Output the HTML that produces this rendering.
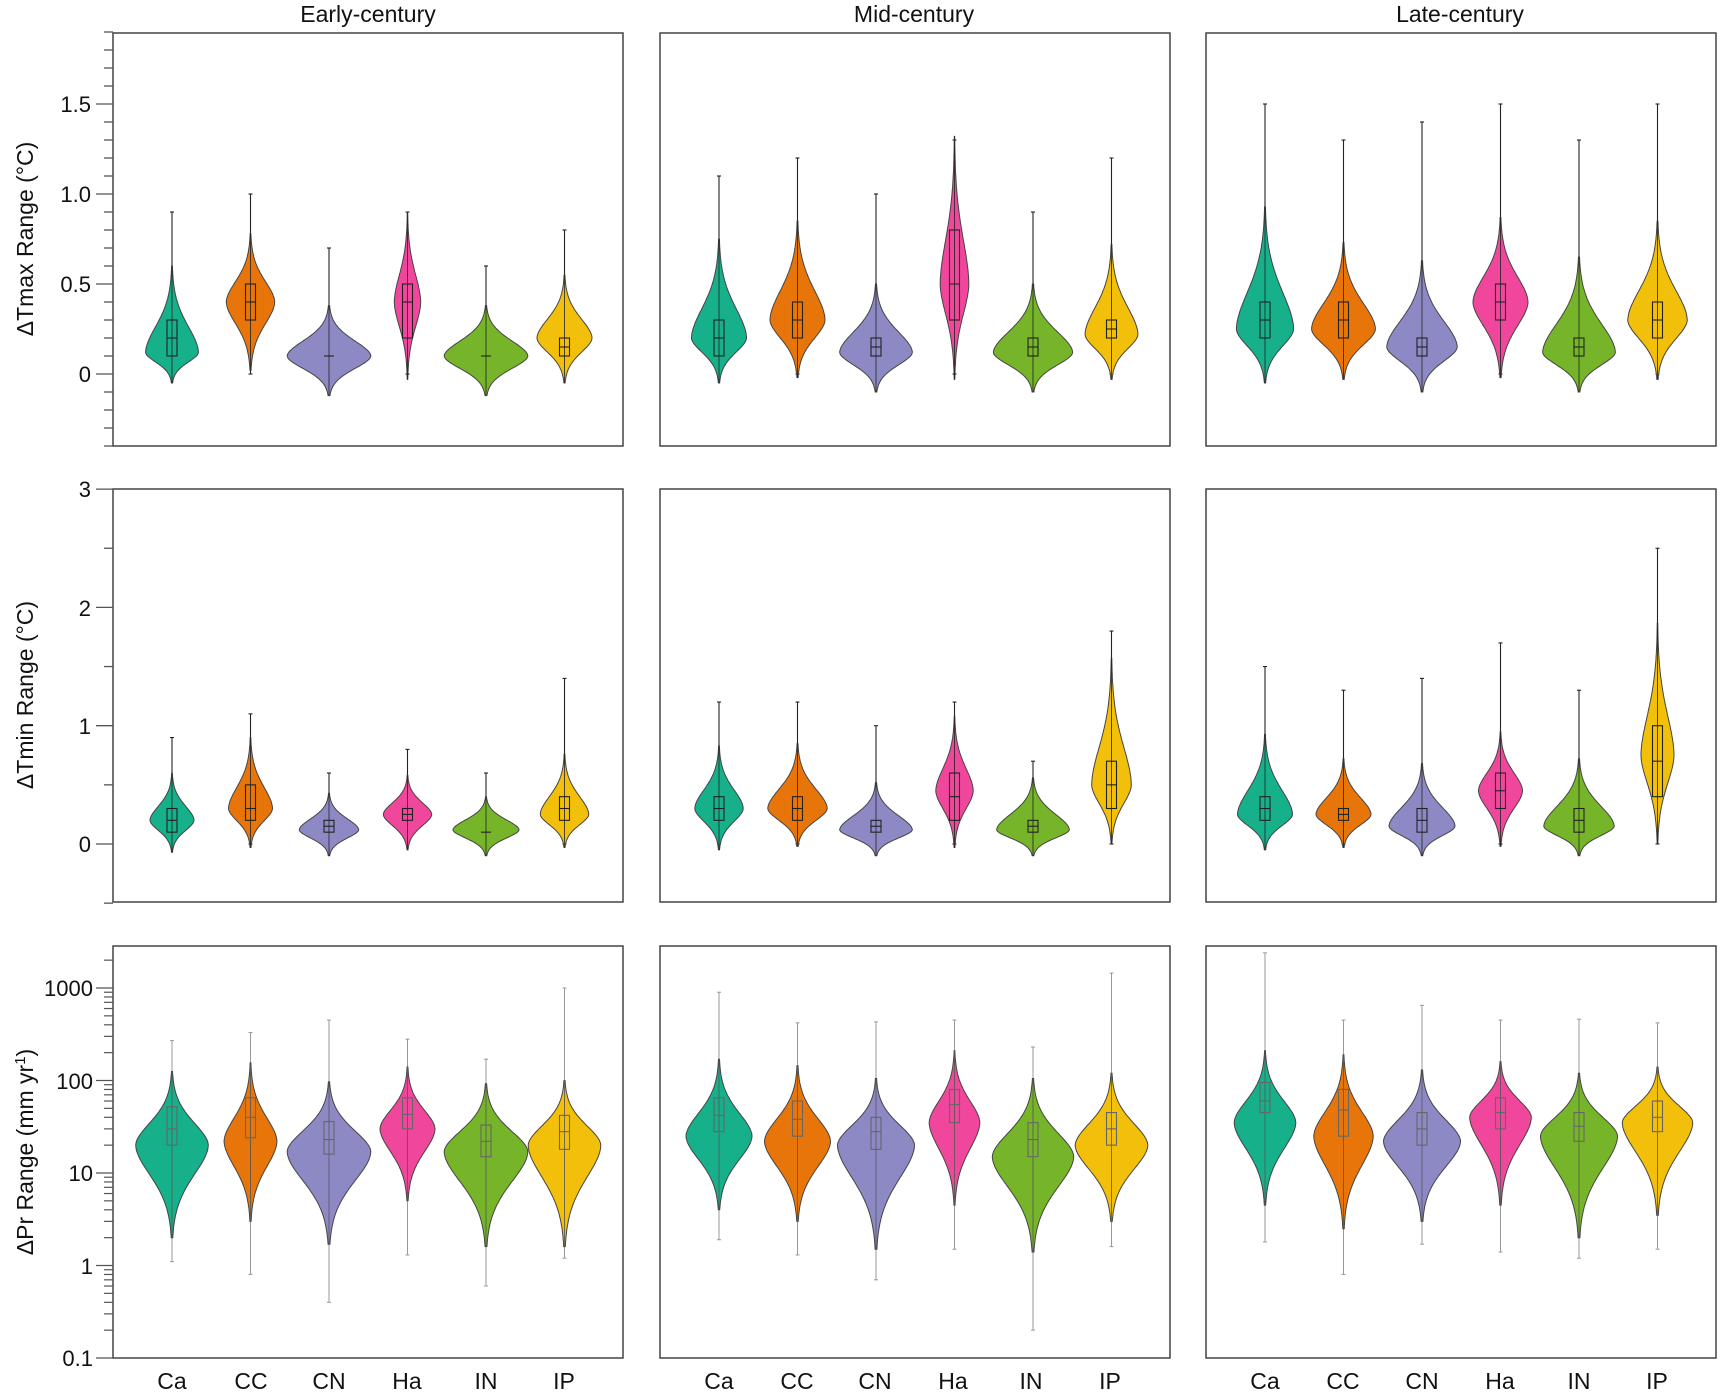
<!DOCTYPE html>
<html><head><meta charset="utf-8"><style>
html,body{margin:0;padding:0;background:#fff}
svg{display:block}
text{font-family:"Liberation Sans",sans-serif;fill:#111}
</style></head><body>
<svg id="s" width="1720" height="1395" viewBox="0 0 1720 1395" xmlns="http://www.w3.org/2000/svg">
<g id="shapes"></g>
<g font-size="23" text-anchor="middle">
<text x="368" y="22">Early-century</text>
<text x="914" y="22">Mid-century</text>
<text x="1460" y="22">Late-century</text>
</g>
<g font-size="22" text-anchor="end">
<text x="91" y="382">0</text><text x="91" y="292">0.5</text><text x="91" y="202">1.0</text><text x="91" y="112">1.5</text>
<text x="91" y="852">0</text><text x="91" y="734">1</text><text x="91" y="616">2</text><text x="91" y="497">3</text>
<text x="93" y="996">1000</text><text x="93" y="1089">100</text><text x="93" y="1181">10</text><text x="93" y="1274">1</text><text x="93" y="1366">0.1</text>
</g>
<g font-size="23" text-anchor="middle">
<text transform="translate(33,239) rotate(-90)">ΔTmax Range (°C)</text>
<text transform="translate(33,695) rotate(-90)">ΔTmin Range (°C)</text>
<text transform="translate(33,1152) rotate(-90)">ΔPr Range (mm yr<tspan dy="-8" font-size="15">1</tspan><tspan dy="8">)</tspan></text>
</g>
<g font-size="23" text-anchor="middle">
<text x="172" y="1389">Ca</text><text x="251" y="1389">CC</text><text x="329" y="1389">CN</text><text x="407" y="1389">Ha</text><text x="486" y="1389">IN</text><text x="564" y="1389">IP</text>
<text x="719" y="1389">Ca</text><text x="797" y="1389">CC</text><text x="875" y="1389">CN</text><text x="953" y="1389">Ha</text><text x="1031" y="1389">IN</text><text x="1110" y="1389">IP</text>
<text x="1265" y="1389">Ca</text><text x="1343" y="1389">CC</text><text x="1422" y="1389">CN</text><text x="1500" y="1389">Ha</text><text x="1579" y="1389">IN</text><text x="1657" y="1389">IP</text>
</g>
</svg>
<script>
var NS="http://www.w3.org/2000/svg",G=document.getElementById("shapes");
function el(t,a){var e=document.createElementNS(NS,t);for(var k in a)e.setAttribute(k,a[k]);G.appendChild(e);return e;}
var cols=[113,660,1206],W=510;
var rows=[{t:33,b:446,f:function(v){return 374-v*180}},
{t:489,b:902,f:function(v){return 844-v*118.3}},
{t:946,b:1358,f:function(v){return 988+(3-Math.log10(v))*92.5}}];
var colors=["#16b08b","#e8750a","#8c89c4","#f0479c","#76b52a","#f2bf0a"];
rows.forEach(function(r){cols.forEach(function(c){el("rect",{x:c,y:r.t,width:W,height:r.b-r.t,fill:"none",stroke:"#444","stroke-width":1.5});});});
for(var i=-4;i<=19;i++){var y=rows[0].f(i/10),mj=(i%5==0);el("line",{x1:mj?96:104,x2:113,y1:y,y2:y,stroke:"#555","stroke-width":1.3});}
for(var i=-1;i<=6;i++){var y=rows[1].f(i/2),mj=(i%2==0);el("line",{x1:mj?96:104,x2:113,y1:y,y2:y,stroke:"#555","stroke-width":1.3});}
for(var d=-1;d<=3;d++){for(var m=1;m<=9;m++){var v=m*Math.pow(10,d);if(v>2900)break;var y=rows[2].f(v);el("line",{x1:m==1?96:104,x2:113,y1:y,y2:y,stroke:"#555","stroke-width":1.2});}}
var D=[
[[[0,.9,-.05,.6,.12,24,.1,.3,.2],[0,1,.02,.78,.4,22,.3,.5,.4],[0,.7,-.12,.38,.1,38,.1,.1,.1],[0,.9,-.03,.9,.4,12,.2,.5,.4],[0,.6,-.12,.38,.1,38,.1,.1,.1],[0,.8,-.05,.55,.2,25,.1,.2,.15]],
 [[0,1.1,-.05,.75,.2,25,.1,.3,.2],[0,1.2,-.02,.85,.3,25,.2,.4,.3],[0,1,-.1,.5,.12,33,.1,.2,.15],[0,1.3,-.03,1.32,.5,13,.3,.8,.5],[0,.9,-.1,.5,.12,36,.1,.2,.15],[0,1.2,-.03,.72,.22,24,.2,.3,.25]],
 [[0,1.5,-.05,.93,.25,26,.2,.4,.3],[0,1.3,-.03,.73,.25,29,.2,.4,.3],[0,1.4,-.1,.63,.15,32,.1,.2,.15],[0,1.5,-.02,.87,.4,25,.3,.5,.4],[0,1.3,-.1,.65,.12,33,.1,.2,.15],[0,1.5,-.03,.85,.3,27,.2,.4,.3]]],
[[[0,.9,-.07,.6,.2,20,.1,.3,.2],[0,1.1,-.03,.9,.3,20,.2,.5,.3],[0,.6,-.1,.43,.12,27,.1,.2,.15],[0,.8,-.05,.58,.25,22,.2,.3,.25],[0,.6,-.1,.4,.12,30,.1,.1,.1],[0,1.4,-.03,.76,.25,22,.2,.4,.3]],
 [[0,1.2,-.05,.83,.3,22,.2,.4,.3],[0,1.2,-.02,.85,.3,27,.2,.4,.3],[0,1,-.1,.52,.12,33,.1,.2,.15],[0,1.2,-.03,1.08,.45,17,.2,.6,.4],[0,.7,-.1,.56,.12,33,.1,.2,.15],[0,1.8,0,1.57,.5,18,.3,.7,.5]],
 [[0,1.5,-.05,.93,.25,25,.2,.4,.3],[0,1.3,-.03,.72,.25,25,.2,.3,.25],[0,1.4,-.1,.68,.15,30,.1,.3,.2],[0,1.7,-.02,.95,.45,20,.3,.6,.45],[0,1.3,-.1,.72,.15,32,.1,.3,.2],[0,2.5,0,1.87,.75,15,.4,1,.7]]],
[[[1.1,270,2,125,20,33,20,52,30],[.8,330,3,155,22,24,24,65,40],[.4,450,1.7,97,17,38,16,36,23],[1.3,280,5,140,30,25,30,65,43],[.6,170,1.6,92,17,38,15,33,22],[1.2,1000,1.6,100,20,33,18,42,28]],
 [[1.9,900,4,170,25,30,28,65,42],[1.3,420,3,145,22,30,25,60,38],[.7,430,1.5,105,20,35,18,40,28],[1.5,450,4.5,210,35,23,35,80,55],[.2,230,1.4,105,15,37,15,35,23],[1.6,1450,3,120,20,33,20,45,30]],
 [[1.8,2400,4.5,210,35,28,45,95,60],[.8,450,2.5,190,25,27,25,80,48],[1.7,650,3,130,22,35,20,45,30],[1.4,450,4.5,160,40,28,30,65,45],[1.2,460,2,120,25,35,22,45,32],[1.5,420,3.5,140,35,32,28,60,40]]]];
for(var r=0;r<3;r++)for(var c=0;c<3;c++)for(var k=0;k<6;k++){
 var d=D[r][c][k],f=rows[r].f,x=cols[c]+59+k*78.5;
 var wl=f(d[0]),wh=f(d[1]),yb=f(d[2]),yt=f(d[3]),ym=f(d[4]),hw=d[5]*1.1;
 var pts=[],N=100,i,y,w;
 for(i=0;i<=N;i++){y=yt+(yb-yt)*i/N;
  if(y<ym){var u=(ym-y)/(ym-yt);w=hw*Math.exp(-4.2*Math.pow(u,1.8));}else{var u=(y-ym)/(yb-ym);w=hw*Math.exp(-3.8*Math.pow(u,1.8));}
  pts.push([x+w,y]);}
 var left=pts.map(function(p){return [2*x-p[0],p[1]];}).reverse();
 var all=pts.concat(left).map(function(p){return p[0].toFixed(1)+","+p[1].toFixed(1);}).join(" ");
 var lc=r==2?"#999":"#222",lw=r==2?1:1.1;
 el("line",{x1:x,x2:x,y1:wl,y2:wh,stroke:lc,"stroke-width":lw});
 el("line",{x1:x-2,x2:x+2,y1:wl,y2:wl,stroke:lc,"stroke-width":lw});
 el("line",{x1:x-2,x2:x+2,y1:wh,y2:wh,stroke:lc,"stroke-width":lw});
 el("polygon",{points:all,fill:colors[k],stroke:"#444","stroke-width":1});
 el("line",{x1:x,x2:x,y1:yt,y2:yb,stroke:r==2?"#555":"#222","stroke-width":1,opacity:0.8});
 var q1=f(d[6]),q3=f(d[7]),md=f(d[8]);
 var bc=r==2?"#666":"#222";
 if(Math.abs(q1-q3)>1)el("rect",{x:x-5,y:q3,width:10,height:q1-q3,fill:"none",stroke:bc,"stroke-width":1.1});
 el("line",{x1:x-5,x2:x+5,y1:md,y2:md,stroke:bc,"stroke-width":1.1});
}
</script>
</body></html>
